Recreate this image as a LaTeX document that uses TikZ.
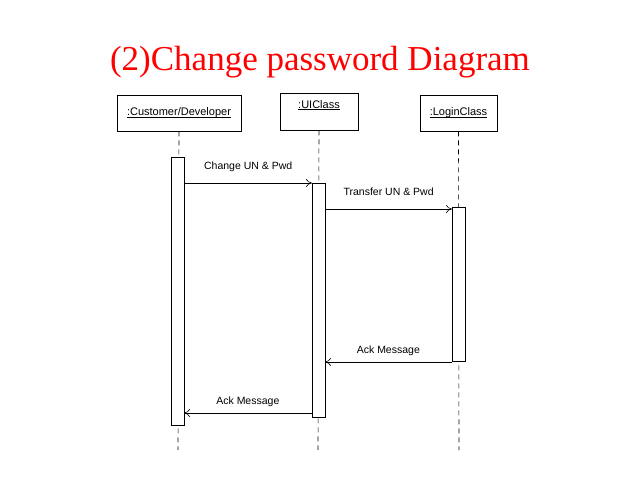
\documentclass[tikz,border=0pt]{standalone}
\usepackage{fontspec}
\usetikzlibrary{arrows.meta}
\setmainfont{Liberation Serif}
\newfontfamily\lsans{Liberation Sans}
\newcommand\myul[1]{\setbox0\hbox{#1}\rlap{\vrule width\wd0 height -1pt depth 1.6pt}\box0}
\begin{document}
\begin{tikzpicture}[x=1pt,y=-1pt,
 obj/.style={draw,line width=0.6pt,inner sep=0pt,font=\lsans\fontsize{11}{13}\selectfont},
 act/.style={draw,fill=white,line width=0.6pt,inner sep=0pt,minimum width=13pt},
 life/.style={line width=0.6pt,dash pattern=on 5pt off 4pt},
 msg/.style={-{To[length=6pt,width=8pt,open]},line width=0.6pt},
 lbl/.style={font=\lsans\fontsize{10.5}{12}\selectfont}]
\useasboundingbox (0,0) rectangle (638,479);
\node[font=\fontsize{35}{40}\selectfont,text=red] (t) at (320,62) {(2)Change password Diagram};
\node[obj,minimum width=124pt,minimum height=36pt] (c) at (179,113) {\myul{:Customer/Developer}};
\node[obj,minimum width=78pt,minimum height=37pt,text depth=14pt] (u) at (319,111.5) {\myul{:UIClass}};
\node[obj,minimum width=77pt,minimum height=36pt] (l) at (458.5,113) {\myul{:LoginClass}};
\coordinate (ce) at (178,450);\coordinate (ue) at (318,450);\coordinate (le) at (459,450);
\draw[life] (c.south) -- (ce);
\draw[life] (u.south) -- (ue);
\draw[life] (l.south) -- (le);
\node[act,minimum height=268pt] (ca) at (177.5,291) {};
\node[act,minimum height=234pt] (ua) at (318.5,300) {};
\node[act,minimum height=154pt] (la) at (458.5,284) {};
\coordinate (a1) at (312,183);\coordinate (a2) at (452,209);
\coordinate (a3) at (325,362);\coordinate (a4) at (184,413);
\draw[msg] (ca.east|-a1) -- (a1) node[lbl,midway,above=8pt] {Change UN \& Pwd};
\draw[msg] (ua.east|-a2) -- (a2) node[lbl,midway,above=10pt] {Transfer UN \& Pwd};
\draw[msg] (la.west|-a3) -- (a3) node[lbl,midway,above=3pt] {Ack Message};
\draw[msg] (ua.west|-a4) -- (a4) node[lbl,midway,above=3pt] {Ack Message};
\end{tikzpicture}
\end{document}
